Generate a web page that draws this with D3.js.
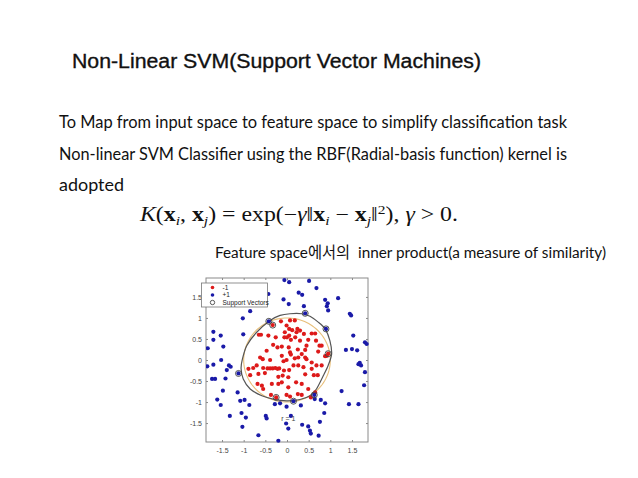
<!DOCTYPE html>
<html><head><meta charset="utf-8">
<script src="https://cdn.jsdelivr.net/npm/d3@7"></script>
<style>body{margin:0;background:#fff}svg{display:block}</style>
</head><body>
<svg id="c" width="638" height="478"></svg>
<script>
// ---- data ----
const redX = [-0.14,0.07,0.18,-0.01,0.05,0.24,0.12,-0.05,0.22,0.30,-0.33,-0.65,-0.60,-0.43,-0.26,-0.06,0.00,0.05,0.19,0.09,0.39,0.57,0.65,0.30,0.49,0.67,0.75,0.80,0.45,0.72,0.42,0.25,0.34,-0.32,-0.22,-0.47,-0.12,0.04,0.07,0.09,-0.12,-0.62,-0.56,-0.39,-0.08,-0.01,0.18,0.26,0.42,0.45,0.57,0.88,0.92,0.95,-0.70,-0.78,-0.89,-0.85,-0.55,-0.45,-0.39,-0.33,-0.27,-0.22,-0.18,-0.07,0.05,0.15,0.26,0.38,0.68,0.80,0.57,-0.66,-0.51,-0.20,-0.10,0.03,0.42,0.62,0.71,-0.68,-0.58,-0.35,-0.20,-0.12,0.03,0.21,0.34,0.49,0.65,-0.37,-0.25,-0.01,0.07,0.25,0.34,0.55,-0.55];
const redY = [0.92,0.94,0.94,0.82,0.74,0.74,0.71,0.66,0.66,0.70,0.83,0.60,0.60,0.58,0.54,0.54,0.54,0.58,0.54,0.48,0.62,0.63,0.63,0.46,0.48,0.46,0.34,0.34,0.34,0.20,0.24,0.25,0.14,0.36,0.30,0.22,0.32,0.30,0.18,0.13,0.10,0.06,0.02,0.00,-0.03,0.00,0.04,0.06,0.06,0.02,-0.06,0.09,0.10,0.15,-0.13,-0.19,-0.21,-0.36,-0.19,-0.20,-0.20,-0.20,-0.19,-0.21,-0.20,-0.25,-0.24,-0.13,-0.13,-0.17,-0.13,-0.13,-0.21,-0.33,-0.31,-0.40,-0.37,-0.41,-0.34,-0.36,-0.36,-0.57,-0.61,-0.57,-0.57,-0.53,-0.65,-0.53,-0.57,-0.69,-0.77,-0.83,-0.89,-0.83,-0.87,-0.81,-0.83,-0.89,-0.69];
const blueX = [-0.06,0.05,0.51,0.68,0.27,0.35,-0.43,0.04,-0.08,0.39,0.42,0.88,0.94,0.92,0.95,1.18,1.45,1.48,-0.85,-1.02,-0.42,0.90,1.53,1.80,1.84,1.36,1.50,1.62,1.65,1.68,1.71,1.80,1.78,1.26,1.43,1.65,-1.70,-1.53,-1.70,-1.47,-1.83,-1.01,-1.84,-1.70,-1.52,-1.34,-1.30,-1.39,-1.12,-1.73,-1.66,-1.42,-1.48,-1.14,-0.98,-1.61,-1.53,-1.08,-0.87,-1.32,-1.05,-0.95,-1.03,-0.49,-0.47,-0.66,-0.20,-0.28,-0.16,-0.01,0.15,0.32,0.09,-0.02,0.03,0.35,0.49,0.53,0.55,0.76,0.86,0.63,0.64,0.78,0.88,0.73];
const blueY = [1.90,1.85,1.88,1.71,1.60,1.55,1.57,1.33,1.44,1.28,1.11,1.43,1.35,1.28,1.18,1.47,1.10,1.06,1.16,0.99,0.92,0.74,0.58,0.42,0.38,0.24,0.26,0.23,-0.10,-0.07,-0.13,-0.29,-0.60,-0.74,-1.05,-1.05,0.67,0.58,0.48,0.32,0.28,0.61,-0.15,-0.11,0.00,-0.13,-0.16,-0.24,-0.32,-0.45,-0.45,-0.44,-0.73,-0.77,-0.95,-0.94,-1.07,-0.97,-1.07,-1.33,-1.26,-1.37,-1.59,-1.33,-1.39,-1.79,-1.92,-1.05,-1.03,-1.11,-0.98,-1.08,-1.33,-1.51,-1.63,-1.54,-1.58,-1.68,-1.75,-1.47,-1.26,-0.83,-0.93,-0.95,-1.03,-1.80];
const svX = [-0.42,-0.33,0.42,0.90,0.95,-1.12,-0.25,0.15,0.63];
const svY = [0.92,0.83,1.11,0.74,0.15,-0.32,-0.89,-0.98,-0.83];
const boundX = [0.07,-0.16,-0.39,-0.70,-0.93,-1.03,-1.06,-1.01,-0.85,-0.58,-0.32,-0.01,0.30,0.53,0.68,0.84,0.95,1.03,0.99,0.88,0.72,0.53,0.34];
const boundY = [1.10,1.06,0.94,0.66,0.34,0.02,-0.21,-0.45,-0.69,-0.85,-0.93,-0.97,-0.94,-0.85,-0.69,-0.37,-0.13,0.14,0.46,0.74,0.90,1.04,1.10];
const circleR = 1;
const xTicks = [-1.5,-1,-0.5,0,0.5,1,1.5];
const yTicks = [-1.5,-1,-0.5,0,0.5,1,1.5];
const legendLabels = ["-1","+1","Support Vectors"];
const titleText = "Non-Linear SVM(Support Vector Machines)";
const bodyLines = ["To Map from input space to feature space to simplify classification task",
  "Non-linear SVM Classifier using the RBF(Radial-basis function) kernel is",
  "adopted"];

// ---- drawing ----
const svg = d3.select("#c");
svg.append("rect").attr("width",638).attr("height",478).attr("fill","#fff");

svg.append("text").attr("x",72).attr("y",68).attr("font-family","Liberation Sans, Arial, sans-serif")
  .attr("font-size",20).attr("fill","#111").attr("stroke","#111").attr("stroke-width",0.35)
  .attr("textLength",409).attr("lengthAdjust","spacingAndGlyphs").text(titleText);

const bodyY = [128,160,191];
const bodyW = [508,508,65];
bodyLines.forEach((t,i)=>{
  svg.append("text").attr("x",59).attr("y",bodyY[i]).attr("font-family","Lato, 'Open Sans', sans-serif")
    .attr("font-size",18).attr("fill","#111").attr("textLength",bodyW[i]).attr("lengthAdjust","spacingAndGlyphs").text(t);
});

// formula
const f = svg.append("text").attr("x",140).attr("y",221).attr("font-family","'Liberation Serif','DejaVu Serif',serif")
  .attr("font-size",20).attr("fill","#111").attr("textLength",318).attr("lengthAdjust","spacingAndGlyphs");
f.append("tspan").attr("font-style","italic").text("K");
f.append("tspan").text("(");
f.append("tspan").attr("font-weight","bold").text("x");
f.append("tspan").attr("font-style","italic").attr("font-size",13).attr("dy",4).text("i");
f.append("tspan").attr("dy",-4).text(", ");
f.append("tspan").attr("font-weight","bold").text("x");
f.append("tspan").attr("font-style","italic").attr("font-size",13).attr("dy",4).text("j");
f.append("tspan").attr("dy",-4).text(") = exp(\u2212");
f.append("tspan").attr("font-style","italic").text("\u03b3");
f.append("tspan").text("\u2016");
f.append("tspan").attr("font-weight","bold").text("x");
f.append("tspan").attr("font-style","italic").attr("font-size",13).attr("dy",4).text("i");
f.append("tspan").attr("dy",-4).text(" \u2212 ");
f.append("tspan").attr("font-weight","bold").text("x");
f.append("tspan").attr("font-style","italic").attr("font-size",13).attr("dy",4).text("j");
f.append("tspan").attr("dy",-4).text("\u2016");
f.append("tspan").attr("font-size",13).attr("dy",-7).text("2");
f.append("tspan").attr("dy",7).text("), ");
f.append("tspan").attr("font-style","italic").text("\u03b3");
f.append("tspan").text(" > 0.");

const fs = svg.append("text").attr("x",215).attr("y",258).attr("font-family","Lato, 'Noto Sans CJK KR', sans-serif")
  .attr("font-size",15.5).attr("fill","#111").attr("textLength",391).attr("lengthAdjust","spacingAndGlyphs");
fs.append("tspan").text("Feature space");
fs.append("tspan").attr("font-family","'Noto Sans CJK KR', sans-serif").text("에서의");
fs.append("tspan").text("\u00a0\u00a0inner product(a measure of similarity)");

// plot
const x = d3.scaleLinear().domain([-1.87,1.87]).range([206,368]);
const y = d3.scaleLinear().domain([-1.95,1.95]).range([442,278]);
const plot = svg.append("g");
plot.append("rect").attr("x",206).attr("y",278).attr("width",162).attr("height",164)
  .attr("fill","#fff").attr("stroke","#8a8a8a").attr("stroke-width",1);

const tickStyle = g => { g.select(".domain").remove();
  g.selectAll("line").attr("stroke","#8a8a8a");
  g.selectAll("text").attr("font-family","Liberation Sans, Arial, sans-serif").attr("font-size",7).attr("fill","#444"); };
const fmt = d => String(d);
plot.append("g").attr("transform","translate(0,442)").call(d3.axisBottom(x).tickValues(xTicks).tickFormat(fmt).tickSize(-2).tickPadding(6)).call(tickStyle);
plot.append("g").attr("transform","translate(0,278)").call(d3.axisTop(x).tickValues(xTicks).tickFormat("").tickSize(-2)).call(tickStyle);
plot.append("g").attr("transform","translate(206,0)").call(d3.axisLeft(y).tickValues(yTicks).tickFormat(fmt).tickSize(-2).tickPadding(4)).call(tickStyle);
plot.append("g").attr("transform","translate(368,0)").call(d3.axisRight(y).tickValues(yTicks).tickFormat("").tickSize(-2)).call(tickStyle);

svg.append("clipPath").attr("id","pc").append("rect").attr("x",206).attr("y",276).attr("width",163).attr("height",168);
const pg = plot.append("g").attr("clip-path","url(#pc)");

// r=1 circle
const ang = d3.range(0,361,3).map(a=>a*Math.PI/180);
pg.append("path").datum(ang).attr("d", d3.line().x(a=>x(circleR*Math.cos(a))).y(a=>y(circleR*Math.sin(a))))
  .attr("fill","none").attr("stroke","#e8bf7a").attr("stroke-width",1.1);
// decision boundary
const bpts = boundX.map((v,i)=>[v,boundY[i]]);
pg.append("path").datum(bpts).attr("d", d3.line().x(d=>x(d[0])).y(d=>y(d[1])).curve(d3.curveCardinalClosed.tension(0.2)))
  .attr("fill","none").attr("stroke","#555").attr("stroke-width",1.2);

pg.selectAll(".r").data(redX.map((v,i)=>[v,redY[i]])).join("circle")
  .attr("cx",d=>x(d[0])).attr("cy",d=>y(d[1])).attr("r",2.1).attr("fill","#dd1a1a");
pg.selectAll(".b").data(blueX.map((v,i)=>[v,blueY[i]])).join("circle")
  .attr("cx",d=>x(d[0])).attr("cy",d=>y(d[1])).attr("r",2.1).attr("fill","#1a1aa8");
pg.selectAll(".s").data(svX.map((v,i)=>[v,svY[i]])).join("circle")
  .attr("cx",d=>x(d[0])).attr("cy",d=>y(d[1])).attr("r",3).attr("fill","none").attr("stroke","#444").attr("stroke-width",0.9);

pg.append("text").attr("x",x(0.03)).attr("y",y(-1.37)+3).attr("text-anchor","middle")
  .attr("font-family","Liberation Sans, Arial, sans-serif").attr("font-size",7).attr("fill","#444").text("r = 1");

// legend
const lg = svg.append("g");
lg.append("rect").attr("x",201.5).attr("y",283).attr("width",66).attr("height",24).attr("fill","#fff").attr("stroke","#777").attr("stroke-width",0.8);
const ly = [287.5,295,302.5];
lg.append("circle").attr("cx",212.5).attr("cy",ly[0]).attr("r",1.8).attr("fill","#dd1a1a");
lg.append("circle").attr("cx",212.5).attr("cy",ly[1]).attr("r",1.8).attr("fill","#1a1aa8");
lg.append("circle").attr("cx",212.5).attr("cy",ly[2]).attr("r",2.2).attr("fill","none").attr("stroke","#333").attr("stroke-width",0.8);
legendLabels.forEach((t,i)=>lg.append("text").attr("x",222.5).attr("y",ly[i]+2.3)
  .attr("font-family","Liberation Sans, Arial, sans-serif").attr("font-size",6.5).attr("fill","#222").text(t));
</script>
</body></html>
